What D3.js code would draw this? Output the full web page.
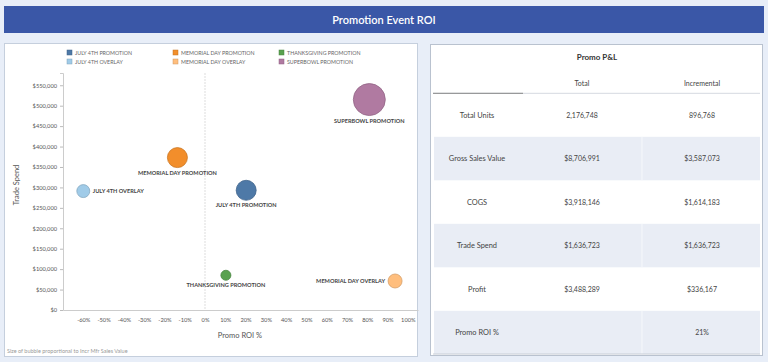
<!DOCTYPE html>
<html>
<head>
<meta charset="utf-8">
<script src="https://cdn.jsdelivr.net/npm/d3@7"></script>
<style>
  body { margin: 0; background: #e8eef8; font-family: Lato, "Open Sans", sans-serif; }
  svg { display: block; }
</style>
</head>
<body>
<svg id="chart"></svg>
<script>
var width = 768, height = 362;

// bubble data
var promos = ["JULY 4TH PROMOTION", "MEMORIAL DAY PROMOTION", "THANKSGIVING PROMOTION",
              "JULY 4TH OVERLAY", "MEMORIAL DAY OVERLAY", "SUPERBOWL PROMOTION"];
var roiPct = [20.3, -13.6, 10.3, -60, 93.7, 81];
var tradeSpend = [293000, 373000, 85000, 291000, 71000, 515000];
var incrSales = [627000, 627000, 157000, 263000, 307000, 1605000];
var colors = ["#4e79a7", "#f28e2b", "#59a14f", "#a0cbe8", "#ffbe7d", "#b07aa1"];
var labelPos = ["below", "below", "below", "right", "left", "below"];

var xTicks = [-60, -50, -40, -30, -20, -10, 0, 10, 20, 30, 40, 50, 60, 70, 80, 90, 100];
var yTicks = [0, 50000, 100000, 150000, 200000, 250000, 300000, 350000, 400000, 450000, 500000, 550000];

// table data
var tableCols = ["Total", "Incremental"];
var rowNames = ["Total Units", "Gross Sales Value", "COGS", "Trade Spend", "Profit", "Promo ROI %"];
var totalVals = ["2,176,748", "$8,706,991", "$3,918,146", "$1,636,723", "$3,488,289", ""];
var incrVals = ["896,768", "$3,587,073", "$1,614,183", "$1,636,723", "$336,167", "21%"];

var svg = d3.select("#chart").attr("width", width).attr("height", height);

// title bar
svg.append("rect").attr("x", 4).attr("y", 6).attr("width", 760).attr("height", 27)
  .attr("fill", "#3a57a7");
svg.append("text").attr("x", 384).attr("y", 23.5).attr("text-anchor", "middle")
  .attr("fill", "#fff").attr("font-size", 11).attr("font-weight", 600)
  .text("Promotion Event ROI");

// panels
svg.append("rect").attr("x", 4.5).attr("y", 43.5).attr("width", 413).attr("height", 313)
  .attr("fill", "#fff").attr("stroke", "#c5cfdd");
svg.append("rect").attr("x", 430.5).attr("y", 44.5).attr("width", 332).attr("height", 311)
  .attr("fill", "#fff").attr("stroke", "#b9c2cf");

// ---- scatter ----
var x = d3.scaleLinear().domain([-70, 105]).range([63, 418]);
var y = d3.scaleLinear().domain([0, 580000]).range([310, 73]);
var r = d3.scaleSqrt().domain([0, d3.max(incrSales)]).range([0, 16]);

var g = svg.append("g");

// zero line
g.append("line").attr("x1", x(0)).attr("x2", x(0)).attr("y1", 73).attr("y2", 310)
  .attr("stroke", "#ddd").attr("stroke-dasharray", "2,1");

var yAxis = g.append("g").attr("transform", "translate(63,0)")
  .call(d3.axisLeft(y).tickValues(yTicks).tickSize(3)
    .tickFormat(function(d){ return "$" + d3.format(",")(d); }));
var xAxis = g.append("g").attr("transform", "translate(0,310)")
  .call(d3.axisBottom(x).tickValues(xTicks).tickSize(0).tickPadding(8)
    .tickFormat(function(d){ return d + "%"; }));

[yAxis, xAxis].forEach(function(a){
  a.select(".domain").attr("stroke", "#ccc");
  a.selectAll(".tick line").attr("stroke", "#bbb");
  a.selectAll("text").attr("fill", "#555").attr("font-size", 5.7)
    .attr("font-family", "Lato, sans-serif");
});

g.append("text").attr("transform", "translate(19,185) rotate(-90)")
  .attr("text-anchor", "middle").attr("font-size", 7.5).attr("fill", "#555")
  .text("Trade Spend");
g.append("text").attr("x", 240).attr("y", 338).attr("text-anchor", "middle")
  .attr("font-size", 7.5).attr("fill", "#555").text("Promo ROI %");
g.append("text").attr("x", 7).attr("y", 353).attr("font-size", 5.5).attr("fill", "#999")
  .text("Size of bubble proportional to Incr Mfr Sales Value");

var idx = d3.range(promos.length);

g.selectAll("circle.bubble").data(idx).enter().append("circle")
  .attr("class", "bubble")
  .attr("cx", function(i){ return x(roiPct[i]); })
  .attr("cy", function(i){ return y(tradeSpend[i]); })
  .attr("r", function(i){ return r(incrSales[i]); })
  .attr("fill", function(i){ return colors[i]; })
  .attr("stroke", function(i){ return d3.color(colors[i]).darker(0.5); })
  .attr("stroke-width", 0.8);

g.selectAll("text.lbl").data(idx).enter().append("text")
  .attr("class", "lbl")
  .attr("font-size", 5.6).attr("font-weight", 700).attr("fill", "#444")
  .attr("x", function(i){
    var cx = x(roiPct[i]), rr = r(incrSales[i]);
    if (labelPos[i] == "right") return cx + rr + 3;
    if (labelPos[i] == "left") return cx - rr - 3;
    return cx;
  })
  .attr("y", function(i){
    var cy = y(tradeSpend[i]), rr = r(incrSales[i]);
    if (labelPos[i] == "below") return cy + rr + 7;
    return cy + 2;
  })
  .attr("text-anchor", function(i){
    if (labelPos[i] == "right") return "start";
    if (labelPos[i] == "left") return "end";
    return "middle";
  })
  .text(function(i){ return promos[i]; });

// legend
var lg = svg.append("g");
idx.forEach(function(i){
  var col = i % 3, row = Math.floor(i / 3);
  var lx = 67 + col * 106, ly = 50 + row * 9;
  lg.append("rect").attr("x", lx).attr("y", ly).attr("width", 5).attr("height", 5)
    .attr("fill", colors[i]).attr("stroke", d3.color(colors[i]).darker(0.6)).attr("stroke-width", 0.5);
  lg.append("text").attr("x", lx + 8).attr("y", ly + 4.5).attr("font-size", 5.3)
    .attr("fill", "#666").text(promos[i]);
});

// ---- table ----
var colX = [477, 582, 702];
var rowTop = 93.3, rowH = 43.5;
var t = svg.append("g");

t.append("text").attr("x", 597).attr("y", 60).attr("text-anchor", "middle")
  .attr("font-size", 8).attr("font-weight", 700).attr("fill", "#333").text("Promo P&L");
tableCols.forEach(function(c, j){
  t.append("text").attr("x", colX[j + 1]).attr("y", 86).attr("text-anchor", "middle")
    .attr("font-size", 7).attr("fill", "#444").text(c);
});

rowNames.forEach(function(name, i){
  var top = rowTop + i * rowH;
  if (i % 2 == 1) {
    t.append("rect").attr("x", 434).attr("y", top).attr("width", 326).attr("height", rowH)
      .attr("fill", "#e9edf5");
    t.append("line").attr("x1", 642).attr("x2", 642).attr("y1", top).attr("y2", top + rowH)
      .attr("stroke", "#f6f8fb").attr("stroke-width", 1);
  }
  var cy = top + rowH / 2 + 2.5;
  [name, totalVals[i], incrVals[i]].forEach(function(v, j){
    t.append("text").attr("x", colX[j]).attr("y", cy).attr("text-anchor", "middle")
      .attr("font-size", j == 0 ? 7.4 : 7).attr("fill", "#444").text(v);
  });
});

t.append("line").attr("x1", 433).attr("x2", 760).attr("y1", rowTop).attr("y2", rowTop)
  .attr("stroke", "#d5d9e0");
t.append("line").attr("x1", 433).attr("x2", 523).attr("y1", rowTop).attr("y2", rowTop)
  .attr("stroke", "#888");
t.append("line").attr("x1", 433).attr("x2", 760).attr("y1", 354).attr("y2", 354)
  .attr("stroke", "#c9ced6");
</script>
</body>
</html>
